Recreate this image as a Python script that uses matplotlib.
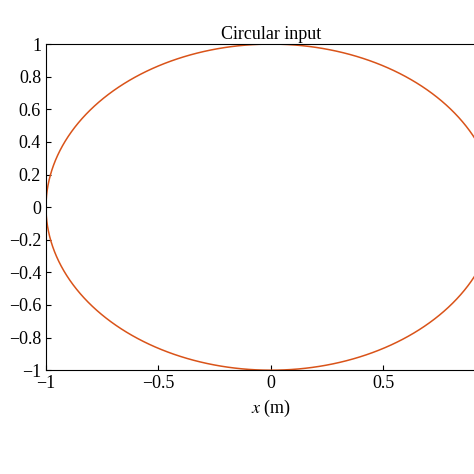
import numpy as np
import matplotlib
matplotlib.use("Agg")
import matplotlib.pyplot as plt

plt.rcParams.update({"font.family": "Liberation Serif", "font.size": 13,
                     "mathtext.fontset": "stix",
                     "xtick.direction": "in", "ytick.direction": "in"})

# circular reference input: unit circle centred at origin
radius = 1.0
center = (0.0, 0.0)
theta = np.linspace(0, 2 * np.pi, 400)
x = center[0] + radius * np.cos(theta)
y = center[1] + radius * np.sin(theta)

xticks = [-1, -0.5, 0, 0.5, 1]
yticks = [-1, -0.8, -0.6, -0.4, -0.2, 0, 0.2, 0.4, 0.6, 0.8, 1]

fig = plt.figure(figsize=(4.74, 4.74), dpi=100)
ax = fig.add_axes([0.097, 0.219, 0.949, 0.688])
ax.plot(x, y, color="#D95319", lw=1.1)
ax.set_xlim(-1, 1); ax.set_ylim(-1, 1)
# the right end (x = 1) falls outside the cropped picture, so its label is left blank
ax.set_xticks(xticks)
ax.set_xticklabels([f"{t:g}".replace("-", "\u2212") if t < 1 else "" for t in xticks])
ax.set_yticks(yticks); ax.set_yticklabels([f"{t:g}".replace("-", "\u2212") for t in yticks])
ax.set_title("Circular input", fontsize=13, pad=4)
ax.set_xlabel("$x$ (m)", fontsize=13)
fig.savefig("out.png", dpi=100)
